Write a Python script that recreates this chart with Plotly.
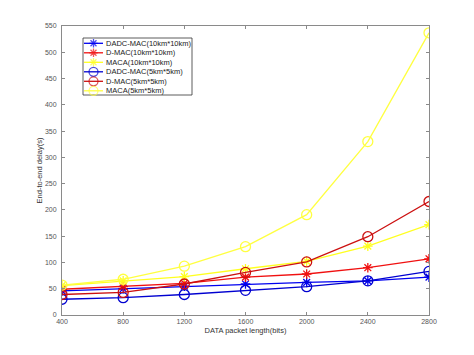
import plotly.graph_objects as go

# ---- data ----
packet_length = [400, 800, 1200, 1600, 2000, 2400, 2800]
dadc_10 = [46, 50, 55, 59, 62, 65, 72]
dmac_10 = [49, 54, 60, 72, 78, 90, 107]
maca_10 = [56, 65, 73, 88, 102, 131, 172]
dadc_5 = [30, 33, 39, 47, 54, 65, 83]
dmac_5 = [39, 43, 59, 81, 101, 149, 216]
maca_5 = [57, 68, 93, 130, 191, 330, 537]
series_names = ["DADC-MAC(10km*10km)", "D-MAC(10km*10km)", "MACA(10km*10km)",
                "DADC-MAC(5km*5km)", "D-MAC(5km*5km)", "MACA(5km*5km)"]
y_ticks = list(range(0, 551, 50))

series = [dadc_10, dmac_10, maca_10, dadc_5, dmac_5, maca_5]
colors = ["#0000f0", "#f01010", "#ffff20", "#0000d0", "#cc1010", "#ffff40"]
symbols = ["asterisk-open", "asterisk-open", "asterisk-open",
           "circle-open", "circle-open", "circle-open"]
sizes = [8, 8, 8, 10, 10, 10]

FONT = "Liberation Sans, Arial, sans-serif"
fig = go.Figure()
for name, ys, c, s, sz in zip(series_names, series, colors, symbols, sizes):
    fig.add_trace(go.Scatter(
        x=packet_length, y=ys, name=name, mode="lines+markers",
        line=dict(color=c, width=1.3),
        marker=dict(symbol=s, size=sz, color=c, line=dict(color=c, width=1.3)),
        showlegend=False,
    ))

# ---- layout geometry (page body has an 8px margin) ----
OFF = 8
W, H = 458, 339
# plot area on screen: x 62..429, y 26..315
L, T = 62 - OFF, 26 - OFF
R = W - (429 - OFF)
B = H - (315 - OFF)
pw, ph = W - L - R, H - T - B
def px(x):  # screen pixel -> paper
    return (x - OFF - L) / pw
def py(y):
    return (H - B - (y - OFF)) / ph

# ---- custom compact legend (MATLAB style) ----
fig.add_shape(type="rect", xref="paper", yref="paper",
              x0=px(83), x1=px(192), y0=py(95), y1=py(38),
              line=dict(color="#333333", width=0.8), fillcolor="white", layer="below")
for i, (name, c, s, sz) in enumerate(zip(series_names, colors, symbols, sizes)):
    yy = py(43.3 + 9.5 * i)
    fig.add_trace(go.Scatter(
        x=[px(84), px(93.5), px(103)], y=[yy, yy, yy], xaxis="x2", yaxis="y2",
        mode="lines+markers", line=dict(color=c, width=1.3),
        marker=dict(symbol=s, size=[0, sz - 1, 0], color=c, line=dict(color=c, width=1.3)),
        showlegend=False, hoverinfo="skip", cliponaxis=False,
    ))
    fig.add_annotation(x=px(104), y=yy, xref="paper", yref="paper", text=name,
                       showarrow=False, xanchor="left", yanchor="middle",
                       font=dict(family=FONT, size=7.5, color="#222222"))

axis_common = dict(
    showgrid=False, zeroline=False, showline=True, linecolor="#8a8a8a", linewidth=1,
    mirror="ticks", ticks="inside", ticklen=3, tickcolor="#8a8a8a", automargin=False,
    tickfont=dict(family=FONT, size=7, color="#555555"),
)
fig.update_layout(
    width=W, height=H,
    margin=dict(l=L, r=R, t=T, b=B),
    paper_bgcolor="white", plot_bgcolor="white",
    font=dict(family=FONT),
    xaxis=dict(range=[400, 2800], tickvals=packet_length,
               title=dict(text="DATA packet length(bits)", standoff=3,
                          font=dict(family=FONT, size=7.5, color="#333333")),
               **axis_common),
    yaxis=dict(range=[0, 550], tickvals=y_ticks, ticklabelstandoff=3,
               title=dict(text="End-to-end delay(s)", standoff=1,
                          font=dict(family=FONT, size=7.5, color="#333333")),
               **axis_common),
    xaxis2=dict(overlaying="x", range=[0, 1], visible=False),
    yaxis2=dict(overlaying="y", range=[0, 1], visible=False),
)

fig.write_html("out.html")
